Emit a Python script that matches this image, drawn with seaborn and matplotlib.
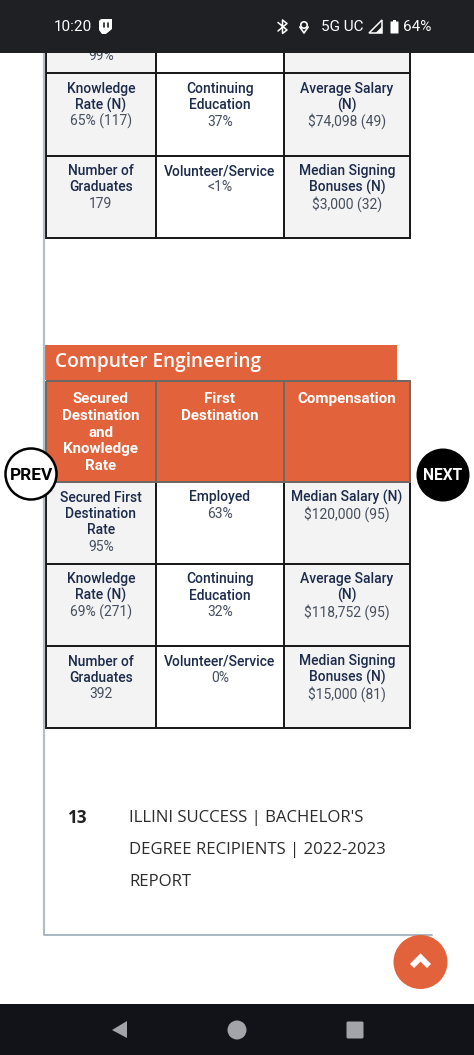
import numpy as np
import pandas as pd
import seaborn as sns
import matplotlib.pyplot as plt
from matplotlib.colors import ListedColormap
from matplotlib.patches import Circle, Rectangle, Polygon, FancyBboxPatch

W, H = 474, 1055

# table contents
headers = ["Secured\nDestination\nand\nKnowledge\nRate", "First\nDestination", "Compensation"]

# first row of the upper table is scrolled away, only its value peeks out
top_labels = [
    ["\n\n", "", ""],
    ["Knowledge\nRate (N)", "Continuing\nEducation", "Average Salary\n(N)"],
    ["Number of\nGraduates", "Volunteer/Service", "Median Signing\nBonuses (N)"],
]
top_values = [
    ["99%", "", ""],
    ["65% (117)", "37%", "$74,098 (49)"],
    ["179", "<1%", "$3,000 (32)"],
]
ce_labels = [
    ["Secured First\nDestination\nRate", "Employed", "Median Salary (N)"],
    ["Knowledge\nRate (N)", "Continuing\nEducation", "Average Salary\n(N)"],
    ["Number of\nGraduates", "Volunteer/Service", "Median Signing\nBonuses (N)"],
]
ce_values = [
    ["95%", "63%", "$120,000 (95)"],
    ["69% (271)", "32%", "$118,752 (95)"],
    ["392", "0%", "$15,000 (81)"],
]
section_title = "Computer Engineering"
page_number = "13"
footer_lines = ["ILLINI SUCCESS | BACHELOR'S", "DEGREE RECIPIENTS | 2022-2023", "REPORT"]

# 0 white, 1 light gray, 2 orange
col_shade = [1, 0, 1]
col_edges = [46, 156, 284, 410]

ORANGE = "#e2623b"
NAVY = "#1c2b4b"
VALUE = "#454f5e"
cell_cmap = ListedColormap(["#ffffff", "#f3f3f3", ORANGE])

sns.set_theme(style="white")
plt.rcParams["font.family"] = ["Roboto", "DejaVu Sans"]

fig = plt.figure(figsize=(W / 100, H / 100), dpi=100, facecolor="white")


def add_px_axes(x0, y0, x1, y1):
    return fig.add_axes([x0 / W, 1 - y1 / H, (x1 - x0) / W, (y1 - y0) / H])


def draw_block(y0, y1, n_rows, shades, line_color, lw=1.15):
    # one heatmap per column, the columns are not the same width
    for j in range(3):
        ax = add_px_axes(col_edges[j], y0, col_edges[j + 1], y1)
        cells = pd.DataFrame({"c": [shades[j]] * n_rows})
        sns.heatmap(cells, ax=ax, cmap=cell_cmap, vmin=0, vmax=2, cbar=False,
                    linewidths=lw, linecolor=line_color,
                    xticklabels=False, yticklabels=False)
        ax.collections[0].set_clip_on(False)


draw_block(-9, 238, 3, col_shade, "#1b1b1b")
draw_block(482, 728, 3, col_shade, "#1b1b1b")
draw_block(381, 482, 1, [2, 2, 2], "#6f6761")

# everything else sits on a full page axes in pixel coordinates
page = fig.add_axes([0, 0, 1, 1], facecolor="none", zorder=5)
page.set_xlim(0, W)
page.set_ylim(H, 0)
page.axis("off")

centers = [(col_edges[i] + col_edges[i + 1]) / 2 for i in range(3)]
LINE = 16.35


def cell_text(labels, values, top, row_h=82):
    for i in range(3):
        for j in range(3):
            y = top + i * row_h + 16
            lines = labels[i][j].split("\n") if labels[i][j] else []
            for txt in lines:
                if txt:
                    page.text(centers[j], y, txt, ha="center", va="center", fontsize=10.0,
                              color=NAVY, fontweight="medium")
                y += LINE
            if values[i][j]:
                page.text(centers[j], y, values[i][j], ha="center", va="center",
                          fontsize=10.0, color=VALUE)


cell_text(top_labels, top_values, -9.5, 82.3)
cell_text(ce_labels, ce_values, 481.5, 82)

for j, head in enumerate(headers):
    y = 399
    for txt in head.split("\n"):
        page.text(centers[j], y, txt, ha="center", va="center", fontsize=10.9,
                  color="white", fontweight="bold")
        y += 16.8

# section band
page.add_patch(Rectangle((45, 345), 352, 35, fc=ORANGE, ec="none"))
page.text(55, 362.5, section_title, ha="left", va="center", fontsize=13.7, color="white",
          family="Open Sans", fontweight="semibold")

# page frame
page.plot([44.5, 44.5], [53, 930], color="#b4bec9", lw=1.6, solid_capstyle="butt")
page.plot([44.5, 44.5, 49, 432], [930, 935, 935, 935], color="#a9b5c2", lw=1.4)

# footer text
page.text(67, 818, page_number, ha="left", va="center", fontsize=12.3, color="#222222",
          family="Open Sans", fontweight="bold")
for y, txt in zip([818.5, 850, 881.5], footer_lines):
    page.text(129, y, txt, ha="left", va="center", fontsize=12.1, color="#2b2b2b",
              family="Open Sans")

# round buttons
page.add_patch(Circle((31, 474), 25.5, fc="white", ec="black", lw=1.8, zorder=6))
page.text(31.5, 475, "PREV", ha="center", va="center", fontsize=12.4, color="black",
          fontweight="bold", zorder=7)
page.add_patch(Circle((443, 475), 26.5, fc="black", ec="none", zorder=6))
page.text(443, 476, "NEXT", ha="center", va="center", fontsize=11.2, color="white",
          fontweight="bold", zorder=7)
page.add_patch(Circle((420.5, 962), 27, fc=ORANGE, ec="none", zorder=6))
page.plot([412, 420.5, 429], [966, 957.5, 966], color="white", lw=4.2, zorder=7,
          solid_joinstyle="miter", solid_capstyle="butt")

# status bar
page.add_patch(Rectangle((0, 0), W, 53, fc="#1f2024", ec="none", zorder=8))
page.text(54, 27, "10:20", ha="left", va="center", fontsize=11, color="white", zorder=9)
page.add_patch(Polygon([(99, 21), (101, 19), (112, 19), (112, 29), (106, 34), (102, 34), (99, 30)],
                       fc="white", ec="none", zorder=9))
page.plot([104, 104], [23, 27], color="#1f2024", lw=1.2, zorder=10)
page.plot([108, 108], [23, 27], color="#1f2024", lw=1.2, zorder=10)
page.plot([278, 287, 282.5, 282.5, 287, 278], [22.5, 30, 33.5, 20, 23.5, 31], color="white",
          lw=1.1, zorder=9)
page.add_patch(Circle((304, 25), 3.2, fc="none", ec="white", lw=1.2, zorder=9))
page.plot([299.8, 304, 308.2], [27, 33, 27], color="white", lw=1.2, zorder=9)
page.text(321, 27, "5G UC", ha="left", va="center", fontsize=11, color="white", zorder=9)
page.add_patch(Polygon([(369, 33), (382, 20), (382, 33)], fc="none", ec="white", lw=1.1, zorder=9))
page.add_patch(Polygon([(375.5, 33), (382, 26.5), (382, 33)], fc="white", ec="none", zorder=9))
page.add_patch(FancyBboxPatch((391, 22), 7, 11, boxstyle="round,pad=0.5", fc="white", ec="none", zorder=9))
page.add_patch(Rectangle((393, 19.5), 3, 2, fc="white", ec="none", zorder=9))
page.text(403, 27, "64%", ha="left", va="center", fontsize=11, color="white", zorder=9)

# navigation bar
page.add_patch(Rectangle((0, 1004), W, 51, fc="#121318", ec="none", zorder=8))
page.add_patch(Polygon([(127, 1021), (127, 1038), (112, 1030)], fc="#a3a4a8", ec="none", zorder=9))
page.add_patch(Circle((237, 1030), 9.5, fc="#a3a4a8", ec="none", zorder=9))
page.add_patch(FancyBboxPatch((348, 1023), 14, 14, boxstyle="round,pad=1.5", fc="#a3a4a8", ec="none", zorder=9))

fig.savefig("out.png", dpi=100)
